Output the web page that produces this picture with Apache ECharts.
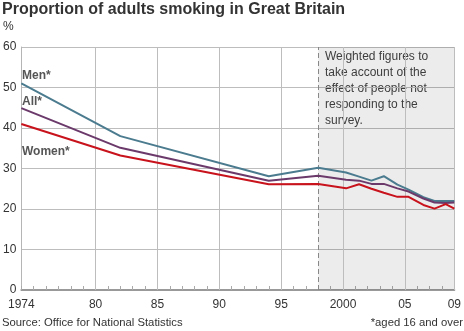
<!DOCTYPE html>
<html>
<head>
<meta charset="utf-8">
<script src="https://cdn.jsdelivr.net/npm/echarts@6/dist/echarts.min.js"></script>
<style>
html,body{margin:0;padding:0;background:#fff;}
#c{width:464px;height:331px;}
</style>
</head>
<body>
<div id="c"></div>
<script>
// ---- data ----
var surveyYears = [1974, 1982, 1994, 1998, 2000.25, 2001.3, 2002.3, 2003.3, 2004.4, 2005.3, 2006.5, 2007.4, 2008.3, 2009];
var men   = [51, 38, 28.1, 30.2, 29, 28, 27, 28.1, 26, 24.8, 22.9, 22, 22, 22];
var all   = [44.9, 35.1, 27, 28.2, 27.2, 27, 26.2, 26.2, 25.1, 24.3, 22.6, 21.6, 21.5, 21.6];
var women = [41, 33.2, 26.1, 26.2, 25.1, 26.1, 25, 24, 23, 23, 21, 20.1, 21.2, 20.1];
var xTickLabels = {1974:'1974', 1980:'80', 1985:'85', 1990:'90', 1995:'95', 2000:'2000', 2005:'05', 2009:'09'};
var gridYears = [1980, 1985, 1990, 1995, 2000, 2005, 2009];
var weightedFrom = 1998, weightedTo = 2009;

function pairs(ys){ return surveyYears.map(function(x,i){ return [x, ys[i]]; }); }

var FONT = "'Liberation Sans', Arial, sans-serif";
var chart = echarts.init(document.getElementById('c'), null, {renderer:'canvas'});
var lineSeries = function(name, ys, color){
  return {type:'line', name:name, data:pairs(ys), symbol:'none', z:5,
    lineStyle:{color:color, width:2}, itemStyle:{color:color}};
};
chart.setOption({
  animation:false,
  textStyle:{fontFamily:FONT},
  grid:{left:20, right:6, top:47, bottom:41, containLabel:false},
  xAxis:{type:'value', min:1974, max:2009, interval:1,
    axisLine:{show:true, lineStyle:{color:'#999', width:2}},
    axisTick:{show:true, inside:true, length:4, lineStyle:{color:'#aaa', width:1}},
    splitLine:{show:false},
    axisLabel:{margin:9, fontSize:12, color:'#333', fontFamily:FONT,
      formatter:function(v){ return xTickLabels[Math.round(v)] || ''; }}
  },
  yAxis:{type:'value', min:0, max:60, interval:10,
    axisLine:{show:true, lineStyle:{color:'#b5b5b5', width:1}},
    axisTick:{show:false},
    splitLine:{show:true, lineStyle:{color:'#bdbdbd', width:1}},
    axisLabel:{margin:5, fontSize:12, color:'#333', fontFamily:FONT}
  },
  series:[
    {type:'line', data:[], z:1, silent:true,
      markArea:{silent:true, itemStyle:{color:'rgba(0,0,0,0.075)'},
        data:[[{xAxis:weightedFrom},{xAxis:weightedTo}]]}},
    {type:'line', data:[], z:2, silent:true,
      markLine:{silent:true, symbol:['none','none'], label:{show:false},
        lineStyle:{color:'#bdbdbd', width:1, type:'solid'},
        data: gridYears.map(function(y){ return {xAxis:y}; }).concat([
          {xAxis:weightedFrom, lineStyle:{color:'#888', type:[5,3], width:1}}
        ])}},
    lineSeries('Men*', men, '#4b7b8e'),
    lineSeries('All*', all, '#6b3a6b'),
    lineSeries('Women*', women, '#c8121c')
  ],
  graphic:[
    {type:'text', x:2, y:10, style:{text:'Proportion of adults smoking in Great Britain', font:'bold 16px '+FONT, fill:'#333', verticalAlign:'middle'}},
    {type:'text', x:3, y:26.5, style:{text:'%', font:'12px '+FONT, fill:'#333', verticalAlign:'middle'}},
    {type:'text', x:22, y:75.5, style:{text:'Men*', font:'bold 12px '+FONT, fill:'#555', verticalAlign:'middle'}},
    {type:'text', x:22, y:101.5, style:{text:'All*', font:'bold 12px '+FONT, fill:'#555', verticalAlign:'middle'}},
    {type:'text', x:22, y:152, style:{text:'Women*', font:'bold 12px '+FONT, fill:'#555', verticalAlign:'middle'}},
    {type:'text', x:325, y:49, style:{text:'Weighted figures to\ntake account of the\neffect of people not\nresponding to the\nsurvey.', font:'12px '+FONT, fill:'#444', verticalAlign:'top', lineHeight:16}},
    {type:'text', x:2, y:323, style:{text:'Source: Office for National Statistics', font:'11.3px '+FONT, fill:'#333', verticalAlign:'middle'}},
    {type:'text', x:463, y:323, style:{text:'*aged 16 and over', font:'11.3px '+FONT, fill:'#333', verticalAlign:'middle', align:'right'}}
  ]
});
</script>
</body>
</html>
